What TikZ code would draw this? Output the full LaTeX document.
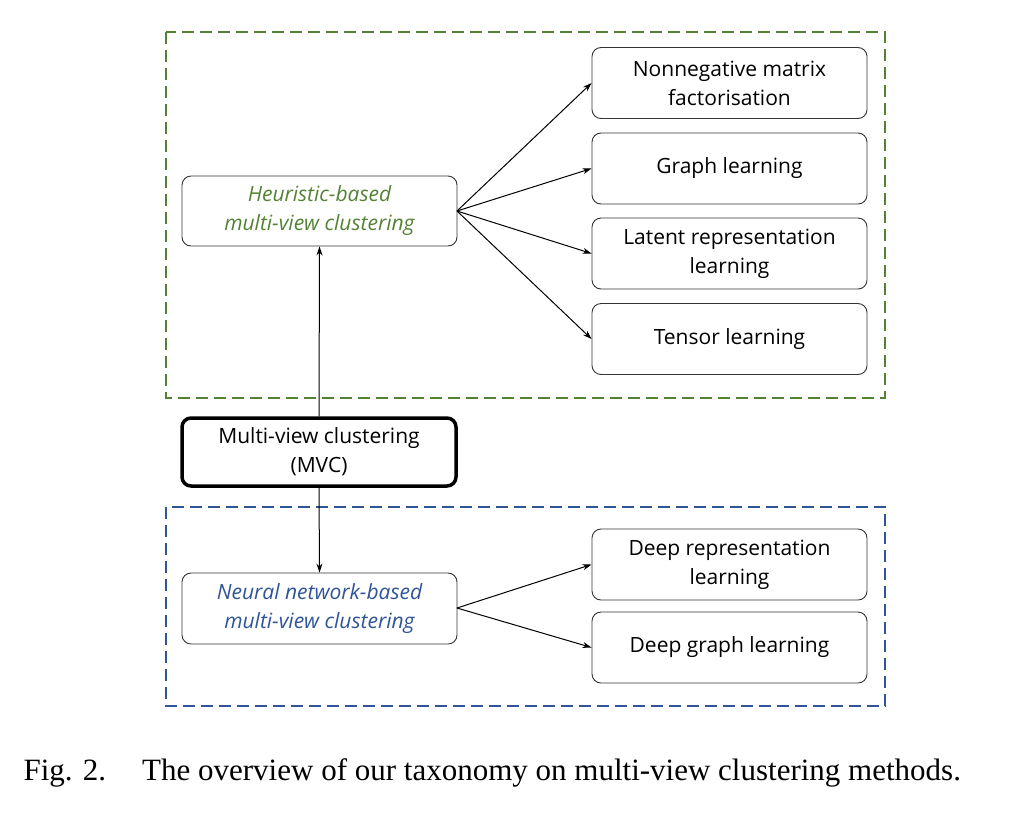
\documentclass[tikz,border=0pt]{standalone}
\usepackage{fontspec}
\setmainfont{Open Sans}
\newfontfamily\capfont{Liberation Serif}
\usetikzlibrary{arrows.meta}
\definecolor{gr}{RGB}{84,130,53}
\definecolor{bl}{RGB}{47,85,151}
\begin{document}
\begin{tikzpicture}[x=1pt,y=-1pt,
 box/.style={draw=black!80,rounded corners=9pt,line width=0.9pt,align=center,font=\fontsize{21}{29}\selectfont},
 arr/.style={-{Stealth[length=9pt,width=6pt]},line width=1pt}]
\useasboundingbox (0,0) rectangle (1036,823);
\draw[gr,dashed,line width=1.8pt,dash pattern=on 12pt off 6pt] (166,32) rectangle (885,398);
\draw[bl,dashed,line width=1.8pt,dash pattern=on 12pt off 6pt] (166,507) rectangle (885,706);
\node[box,minimum width=275pt,minimum height=70pt,text=gr,font=\fontsize{21}{29}\selectfont\itshape] (h) at (319.5,211) {Heuristic-based\\multi-view clustering};
\node[box,minimum width=275pt,minimum height=71pt,text=bl,font=\fontsize{21}{29}\selectfont\itshape] (n) at (319.5,608.5) {Neural network-based\\multi-view clustering};
\node[box,draw=black,line width=3.5pt,minimum width=274pt,minimum height=68pt] (m) at (319,452) {Multi-view clustering\\(MVC)};
\foreach \n/\y/\t in {a/83/{Nonnegative matrix\\factorisation},b/168.5/{Graph learning},c/253.5/{Latent representation\\learning},d/339/{Tensor learning},e/564.5/{Deep representation\\learning},f/647.5/{Deep graph learning}}
  \node[box,minimum width=275pt,minimum height=71pt] (\n) at (729.5,\y) {\t};
\coordinate (hs) at (457,211);
\coordinate (ns) at (457,608);
\foreach \n in {a,b,c,d} \draw[arr] (hs) -- (\n.west);
\foreach \n in {e,f} \draw[arr] (ns) -- (\n.west);
\draw[arr] (m.north) -- (h.south);
\draw[arr] (m.south) -- (n.north);
\node[anchor=west,font=\capfont\fontsize{31}{36}\selectfont] (cap) at (20,773) {Fig. 2.\hspace{36pt}The overview of our taxonomy on multi-view clustering methods.};
\end{tikzpicture}
\end{document}
